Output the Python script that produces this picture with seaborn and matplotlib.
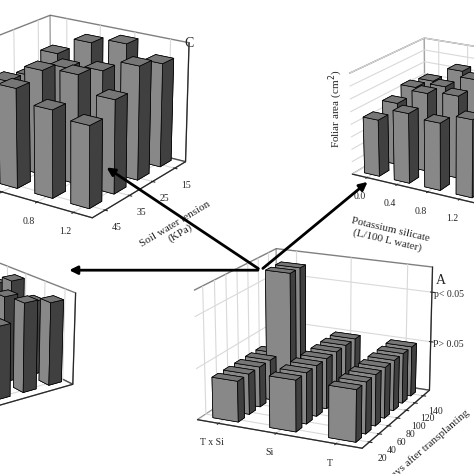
import numpy as np
import matplotlib
matplotlib.use("Agg")
import matplotlib.pyplot as plt
import seaborn as sns
from mpl_toolkits.mplot3d import Axes3D

sns.set_style("white")
plt.rcParams['font.family'] = ['Liberation Serif', 'DejaVu Serif']

# Panel A data
effects = ['T x Si', 'Si', 'T']
days = [20, 40, 60, 80, 100, 120, 140]
sig_txsi = [0.8, 0.8, 0.8, 0.8, 0.8, 2.3, 2.3]
sig_si = [1.0, 1.0, 1.0, 1.0, 1.0, 1.0, 1.0]
sig_t = [1.0, 1.0, 1.0, 1.0, 1.0, 1.0, 1.0]

# Panel C data
silicate_c = [0.0, 0.4, 0.8, 1.2]
tension_c = [45, 35, 25, 15]
height_c = [[60, 70, 65, 75], [80, 85, 78, 90], [70, 88, 82, 95], [65, 75, 92, 85]]

# Foliar area panel
silicate_f = [0.0, 0.4, 0.8, 1.2]
levels_f = [1, 2, 3, 4]
foliar = [[9000, 10000, 11000, 10500], [11000, 12500, 12000, 13000],
          [10500, 13000, 14000, 12000], [12000, 11500, 13500, 14500]]

# Bottom-left panel
silicate_b = [0.0, 0.4, 0.8, 1.2]
levels_b = [1, 2, 3, 4]
height_b = [[50, 60, 55, 70], [65, 75, 70, 80], [60, 72, 78, 68], [70, 65, 80, 75]]

fig = plt.figure(figsize=(4.74, 4.74), dpi=100)

def bars(ax, xs, ys, Z, dx=0.5, dy=0.5):
    for i, x in enumerate(xs):
        for j, y in enumerate(ys):
            ax.bar3d(i, j, 0, dx, dy, Z[i][j], color='#9a9a9a', edgecolor='black',
                     linewidth=0.5, shade=True)

def style(ax):
    for a in (ax.xaxis, ax.yaxis, ax.zaxis):
        a.pane.set_facecolor('white')
        a.pane.set_edgecolor('black')
        a._axinfo['grid']['color'] = (0.85, 0.85, 0.85, 1)
    ax.tick_params(labelsize=7, pad=0)

# Panel A
axA = fig.add_axes([0.30, -0.02, 0.72, 0.58], projection='3d')
Z = [sig_txsi, sig_si, sig_t]
bars(axA, effects, days, Z, dx=0.45, dy=0.55)
axA.set_xticks([0.2, 1.2, 2.2]); axA.set_xticklabels(effects)
axA.set_yticks(np.arange(len(days)) + 0.25); axA.set_yticklabels(days)
axA.set_zticks([1, 2]); axA.set_zticklabels(['P> 0.05', 'p< 0.05'])
axA.set_zlim(0, 2.5)
axA.set_ylabel('Days after transplanting', fontsize=8, labelpad=-2)
axA.set_zlabel('F test significance', fontsize=8, labelpad=2)
axA.view_init(elev=18, azim=-65)
style(axA)
fig.text(0.92, 0.40, 'A', fontsize=10)

# Panel C
axC = fig.add_axes([-0.22, 0.48, 0.72, 0.56], projection='3d')
bars(axC, silicate_c, tension_c, height_c)
axC.set_xticks(np.arange(4) + 0.25); axC.set_xticklabels(silicate_c)
axC.set_yticks(np.arange(4) + 0.25); axC.set_yticklabels(tension_c)
axC.set_zticks([])
axC.set_xlabel('Potassium silicate', fontsize=8)
axC.set_ylabel('Soil water tension\n(KPa)', fontsize=8)
axC.view_init(elev=20, azim=-55)
style(axC)
fig.text(0.39, 0.90, 'C', fontsize=10)

# Foliar panel
axF = fig.add_axes([0.66, 0.52, 0.56, 0.46], projection='3d')
bars(axF, silicate_f, levels_f, foliar)
axF.set_xticks(np.arange(4) + 0.25); axF.set_xticklabels(silicate_f)
axF.set_yticks([]); axF.set_zlim(0, 16000)
axF.set_zticks(range(0, 16001, 2000))
axF.set_xlabel('Potassium silicate\n(L/100 L water)', fontsize=8)
axF.view_init(elev=20, azim=-60)
style(axF)
fig.text(0.69, 0.70, 'Foliar area (cm$^2$)', fontsize=8, rotation=90)

# Bottom-left panel
axB = fig.add_axes([-0.35, 0.08, 0.62, 0.42], projection='3d')
bars(axB, silicate_b, levels_b, height_b)
axB.set_xticks(np.arange(4) + 0.25); axB.set_xticklabels(silicate_b)
axB.set_yticks([]); axB.set_zticks([])
axB.set_xlabel('Potassium silicate\n(L/100 L water)', fontsize=8)
axB.view_init(elev=20, azim=-35)
style(axB)

# Arrows
ov = fig.add_axes([0, 0, 1, 1]); ov.set_xlim(0, 1); ov.set_ylim(0, 1); ov.axis('off')
start = (0.55, 0.43)
for end in [(0.22, 0.65), (0.78, 0.62), (0.14, 0.43)]:
    ov.annotate('', xy=end, xytext=start,
                arrowprops=dict(arrowstyle='-|>', color='black', lw=2, mutation_scale=12))

fig.savefig('out.png', dpi=100)
